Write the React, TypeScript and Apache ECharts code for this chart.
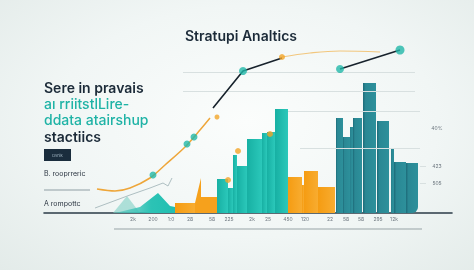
import React, { useEffect, useRef } from "react";
import * as echarts from "echarts";

// Headline copy on the left
const titleText = "Stratupi Analtics";
const headlineDark = ["Sere in pravais", "stactiics"];
const headlineTeal = ["aı rriitstlLire-", "ddata atairshup"];
const badgeText = "Dsnik";
const noteB = "B. rooprreric";
const noteA = "A rompottc";

// Bars: [start, end, value]
const orangeBars = [
  [32.75, 37.75, 5],
  [61, 64.5, 18],
  [64.5, 65, 14],
  [65, 68.5, 21],
  [68.5, 72.75, 13],
];
const tealBars = [
  [43.25, 46, 17],
  [46, 47.25, 12.5],
  [47.25, 48.25, 29],
  [48.25, 50.75, 23.5],
  [50.75, 54.5, 37],
  [54.5, 55.75, 40],
  [55.75, 57.75, 40.5],
  [57.75, 61, 52],
];
const deepBars = [
  [73, 74.75, 47.5],
  [74.75, 76.5, 38],
  [76.5, 77.25, 43],
  [77.25, 79.5, 47.5],
  [79.75, 83, 65],
  [83.25, 86.25, 46],
  [86.75, 87.5, 32],
  [87.5, 90.5, 25.5],
  [90.5, 93.5, 25],
];

// Filled shapes on the left
const orangePeak = [[37.75, 5], [39.25, 17.5], [39.25, 8], [43.25, 8], [43.25, 0]];
const palePeak = [[17.25, 0], [20.75, 8.5], [24, 0]];
const tealPeak = [[17.75, 0], [24, 3], [28.5, 10], [31.5, 3.5], [32.75, 3], [32.75, 0]];

// Lines
const orangeTrend = [[13.25, 12], [17.75, 11], [21.5, 12.5], [26.5, 17.5], [30.25, 24], [35.25, 33], [39, 41.5], [41.5, 47.5]];
const greyTrend = [[12.75, 2.5], [21.5, 9], [26.5, 12.5], [29.75, 15], [31, 13.5], [32, 17.5]];
const darkTrend = [[42.25, 52.5], [49.75, 71], [59.5, 77.5]];
const orangeUpper = [[59.5, 78], [66.5, 80], [74, 81], [84, 80.5]];
const darkRight = [[74, 72], [89, 81.5]];

// Markers
const tealDots = [[49.75, 71, 8], [74, 72, 8], [89, 81.5, 9], [27.25, 19, 7], [35.75, 34.5, 7], [37.5, 38, 7]];
const orangeDots = [[59.5, 78, 6], [43.25, 48, 5], [48.5, 31, 6], [56.5, 39.5, 6], [46, 16.5, 6]];

// Tick labels under the baseline
const tickPos = [22.25, 27.25, 31.75, 36.5, 42, 46.25, 52, 56, 61, 65.25, 71.5, 75.5, 79.25, 83.5, 87.5];
const tickText = ["2k", "200", "1:0", "28", "58", "225", "2k", "25", "450", "120", "22", "58", "58", "295", "12k"];

// Labels on the right
const sideLabels = [[98.25, 42.5, "40%"], [98.25, 23.5, "423"], [98.25, 15, "505"]];

// Faint guide lines: [y, x0, x1]
const guides = [[70.5, 34.75, 92.75], [61, 34.75, 92.75], [51, 61, 94], [32.5, 64, 94], [23.5, 94, 95.5], [15, 94, 95.5]];

function barRenderer(fill: any, roundLast: boolean, count: number) {
  return (params: any, api: any) => {
    const top = api.coord([api.value(0), api.value(2)]);
    const bottom = api.coord([api.value(1), 0]);
    const last = roundLast && params.dataIndex === count - 1;
    return {
      type: "rect",
      shape: {
        x: top[0],
        y: top[1],
        width: bottom[0] - top[0],
        height: bottom[1] - top[1],
        r: last ? [0, 0, 6, 0] : 0,
      },
      style: { fill },
    };
  };
}

export default function App() {
  const ref = useRef<HTMLDivElement>(null);

  useEffect(() => {
    if (!ref.current) return;
    const chart = echarts.init(ref.current, null, { renderer: "svg" });
    const font = "Inter, 'Open Sans', sans-serif";

    const tealFill = new echarts.graphic.LinearGradient(0, 0, 1, 0, [
      { offset: 0, color: "#17b0a3" },
      { offset: 1, color: "#2bc8ba" },
    ]);
    const deepFill = new echarts.graphic.LinearGradient(0, 0, 1, 0, [
      { offset: 0, color: "#1d6b79" },
      { offset: 0.2, color: "#2a8894" },
      { offset: 1, color: "#2d909b" },
    ]);
    const orangeFill = new echarts.graphic.LinearGradient(0, 0, 1, 0, [
      { offset: 0, color: "#f59c12" },
      { offset: 1, color: "#f8ac30" },
    ]);

    chart.setOption({
      animation: false,
      backgroundColor: "transparent",
      title: {
        text: titleText,
        left: 236,
        textAlign: "center",
        top: 23,
        textStyle: { fontFamily: font, fontSize: 14, fontWeight: 600, color: "#1b2a38" },
      },
      grid: { left: 44, right: 22, top: 13, bottom: 57 },
      xAxis: {
        type: "value",
        min: 0,
        max: 102,
        axisLine: { show: true, onZero: false, lineStyle: { color: "#2b3b47", width: 1.6 } },
        axisTick: { show: false },
        axisLabel: { show: false },
        splitLine: { show: false },
      },
      yAxis: {
        type: "value",
        min: 0,
        max: 100,
        show: false,
      },
      graphic: [
        { type: "text", left: 44, top: 80, style: { text: headlineDark[0], font: `600 14px ${font}`, fill: "#1b2a38" } },
        { type: "text", left: 44, top: 96, style: { text: headlineTeal[0], font: `500 14px ${font}`, fill: "#1fb3a6" } },
        { type: "text", left: 44, top: 112, style: { text: headlineTeal[1], font: `500 14px ${font}`, fill: "#1fb3a6" } },
        { type: "text", left: 44, top: 129, style: { text: headlineDark[1], font: `600 14px ${font}`, fill: "#1b2a38" } },
        { type: "rect", shape: { x: 44, y: 149, width: 27, height: 12 }, style: { fill: "#1a2d3d" } },
        { type: "text", x: 57.5, y: 155, style: { text: badgeText, font: `4px ${font}`, fill: "#9fb3c0", align: "center", verticalAlign: "middle" } },
        { type: "text", left: 44, top: 170, style: { text: noteB, font: `7px ${font}`, fill: "#2a3440" } },
        { type: "line", shape: { x1: 44, y1: 190, x2: 90, y2: 190 }, style: { stroke: "#8f9ea4", lineWidth: 1 } },
        { type: "text", left: 44, top: 200, style: { text: noteA, font: `7px ${font}`, fill: "#2a3440" } },
        { type: "line", shape: { x1: 114, y1: 229, x2: 422, y2: 229 }, style: { stroke: "#97a3a6", lineWidth: 1 } },
      ],
      series: [
        {
          type: "line",
          data: [],
          markLine: {
            silent: true,
            symbol: "none",
            label: { show: false },
            lineStyle: { color: "#d8e0e0", width: 1, type: "solid" },
            data: guides.map((g) => [{ coord: [g[1], g[0]] }, { coord: [g[2], g[0]] }]),
          },
        },
        {
          type: "line",
          data: palePeak,
          symbol: "none",
          lineStyle: { width: 0 },
          areaStyle: { color: "rgba(126, 208, 196, 0.6)", opacity: 1, origin: "start" },
          z: 2,
        },
        {
          type: "line",
          data: tealPeak,
          symbol: "none",
          lineStyle: { width: 0 },
          areaStyle: {
            color: new echarts.graphic.LinearGradient(0, 0, 1, 0, [
              { offset: 0, color: "rgba(60,190,180,0.45)" },
              { offset: 0.6, color: "#2cc3b5" },
              { offset: 1, color: "#21bfb1" },
            ]),
            opacity: 1,
            origin: "start",
          },
          z: 3,
        },
        {
          type: "line",
          data: orangePeak,
          symbol: "none",
          lineStyle: { width: 0 },
          areaStyle: { color: "#f6a11c", opacity: 1, origin: "start" },
          z: 3,
        },
        {
          type: "custom",
          data: orangeBars,
          encode: { x: [0, 1], y: 2 },
          renderItem: barRenderer(orangeFill, false, orangeBars.length),
          z: 3,
        },
        {
          type: "custom",
          data: tealBars,
          encode: { x: [0, 1], y: 2 },
          renderItem: barRenderer(tealFill, false, tealBars.length),
          z: 3,
        },
        {
          type: "custom",
          data: deepBars,
          encode: { x: [0, 1], y: 2 },
          renderItem: barRenderer(deepFill, true, deepBars.length),
          z: 3,
        },
        {
          type: "line",
          data: greyTrend,
          symbol: "none",
          lineStyle: { color: "#aebfc2", width: 1 },
          z: 4,
        },
        {
          type: "line",
          data: orangeTrend,
          symbol: "none",
          smooth: 0.3,
          lineStyle: { color: "#eea63a", width: 1.5 },
          z: 4,
        },
        {
          type: "line",
          data: orangeUpper,
          symbol: "none",
          smooth: 0.4,
          lineStyle: { color: "#f2c77e", width: 1.2 },
          z: 4,
        },
        {
          type: "line",
          data: darkTrend,
          symbol: "none",
          lineStyle: { color: "#17222c", width: 1.6 },
          z: 5,
        },
        {
          type: "line",
          data: darkRight,
          symbol: "none",
          lineStyle: { color: "#17222c", width: 1.6 },
          z: 5,
        },
        {
          type: "scatter",
          data: tealDots,
          symbolSize: (v: number[]) => v[2],
          itemStyle: { color: "#22b8a9" },
          z: 6,
        },
        {
          type: "scatter",
          data: orangeDots,
          symbolSize: (v: number[]) => v[2],
          itemStyle: { color: "#f3a528" },
          z: 6,
        },
        {
          type: "scatter",
          data: tickPos.map((x, i) => [x, 0, tickText[i]]),
          symbolSize: 0,
          silent: true,
          label: {
            show: true,
            position: "bottom",
            distance: 3,
            formatter: (p: any) => p.data[2],
            fontFamily: font,
            fontSize: 5,
            color: "#4a5560",
          },
          z: 6,
        },
        {
          type: "scatter",
          data: sideLabels,
          symbolSize: 0,
          silent: true,
          label: {
            show: true,
            position: "inside",
            formatter: (p: any) => p.data[2],
            fontFamily: font,
            fontSize: 5,
            color: "#4a5560",
          },
          z: 6,
        },
      ],
    });

    return () => chart.dispose();
  }, []);

  return (
    <div
      style={{
        position: "fixed",
        left: 0,
        top: 0,
        width: 474,
        height: 270,
        background: "radial-gradient(ellipse at 52% 45%, #fbfdfc 0%, #f1f6f5 55%, #e3ebe9 100%)",
      }}
    >
      <div ref={ref} style={{ width: 474, height: 270 }} />
    </div>
  );
}
